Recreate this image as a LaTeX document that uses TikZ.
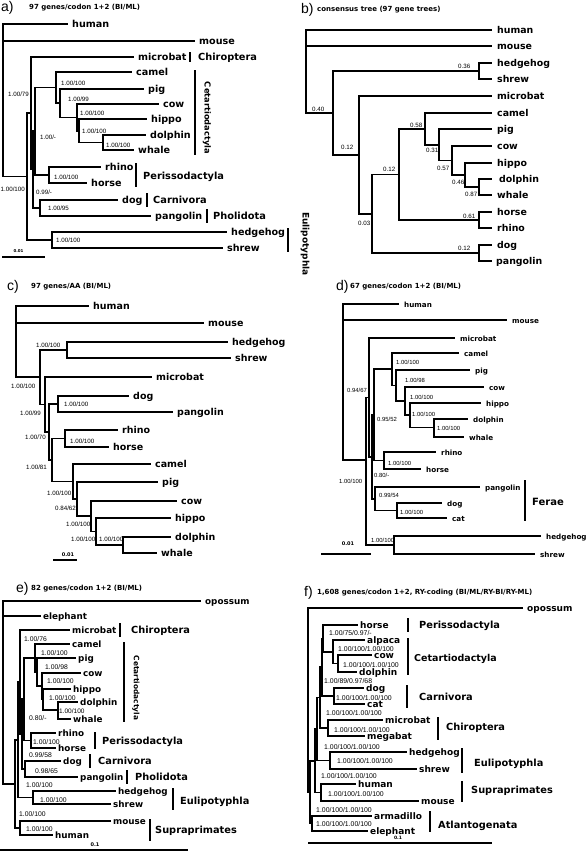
\documentclass[tikz,border=0pt]{standalone}
\usepackage{fontspec}
\setmainfont{DejaVu Sans}
\newfontfamily\supf{Liberation Sans}
\begin{document}
\begin{tikzpicture}[x=1pt,y=-1pt,
  br/.style={line width=1.8pt},
  brt/.style={line width=1.5pt},
  cbar/.style={line width=2.4pt},
  lf/.style={anchor=west,inner ysep=0pt,inner xsep=4pt,text height=0.74em,text depth=0pt,font=\bfseries\fontsize{#1}{#1}\selectfont},
  lf/.default=9.5,
  lfd/.style={lf=7.2,inner xsep=5pt},
  lfe/.style={lf=8.8,inner xsep=2.5pt},
  lff/.style={lf=9,inner xsep=2pt},
  sup/.style={anchor=west,inner sep=0pt,text height=0.72em,text depth=0pt,font=\supf\fontsize{#1}{#1}\selectfont},
  sup/.default=6.2,
  cl/.style={anchor=west,inner sep=0pt,text height=0.74em,text depth=0pt,font=\bfseries\fontsize{#1}{#1}\selectfont},
  cl/.default=9.8,
  vcl/.style={rotate=-90,inner sep=0pt,font=\bfseries\fontsize{#1}{#1}\selectfont},
  vcl/.default=8.5,
  ttl/.style={anchor=west,inner sep=0pt,font=\bfseries\fontsize{7}{8}\selectfont},
  plab/.style={anchor=west,inner sep=0pt,font=\supf\fontsize{14}{14}\selectfont},
  sc/.style={inner sep=0pt,font=\bfseries\fontsize{#1}{#1}\selectfont},
  sc/.default=5]
\useasboundingbox (0,0) rectangle (586,852);

% ================= Panel a =================
\node[plab] (a-p) at (1,7.5) {a)};
\node[ttl] (a-t) at (29,7.5) {97 genes/codon 1+2 (BI/ML)};
\coordinate (a-root) at (3,100);
\coordinate (a-n1) at (27,176.5);
\coordinate (a-n2) at (31,113);
\coordinate (a-n3) at (33,169.5);
\coordinate (a-n4) at (35,131);
\coordinate (a-c1) at (56,87.5);
\coordinate (a-pg) at (60,103);
\coordinate (a-ch) at (77,117.5);
\coordinate (a-h) at (79,131);
\coordinate (a-d) at (103,142.5);
\coordinate (a-per) at (49,175);
\coordinate (a-cp) at (40,208);
\coordinate (a-hs) at (52,240);
\node[lf=9.6] (a-human) at (68,24) {human};
\node[lf=9.6] (a-mouse) at (195,41) {mouse};
\node[lf=9.6] (a-microbat) at (134,57) {microbat};
\node[lf=9.6] (a-camel) at (132,72) {camel};
\node[lf=9.6] (a-pig) at (144,89) {pig};
\node[lf=9.6] (a-cow) at (159,104) {cow};
\node[lf=9.6] (a-hippo) at (147,119) {hippo};
\node[lf=9.6] (a-dolphin) at (146,135) {dolphin};
\node[lf=9.6] (a-whale) at (134,150) {whale};
\node[lf=9.6] (a-rhino) at (101,167) {rhino};
\node[lf=9.6] (a-horse) at (87,183) {horse};
\node[lf=9.6] (a-dog) at (118,200) {dog};
\node[lf=9.6] (a-pangolin) at (151,216) {pangolin};
\node[lf=9.6] (a-hedgehog) at (227,232) {hedgehog};
\node[lf=9.6] (a-shrew) at (223,248) {shrew};
\foreach \p/\c in {root/human,root/mouse,root/n1,n1/n2,n1/hs,n2/microbat,n2/n3,n3/n4,n3/cp,n4/c1,n4/per,c1/camel,c1/pg,pg/pig,pg/ch,ch/cow,ch/h,h/hippo,h/d,d/dolphin,d/whale,per/rhino,per/horse,cp/dog,cp/pangolin,hs/hedgehog,hs/shrew}
  \draw[br] (a-\p) |- (a-\c);
\node[sup] (a-s1) at (8,93) {1.00/79};
\node[sup] (a-s2) at (40,136) {1.00/-};
\node[sup] (a-s3) at (61,82) {1.00/100};
\node[sup] (a-s4) at (68,98) {1.00/99};
\node[sup] (a-s5) at (80,112) {1.00/100};
\node[sup] (a-s6) at (82,130) {1.00/100};
\node[sup] (a-s7) at (106,144) {1.00/100};
\node[sup] (a-s8) at (54,176) {1.00/100};
\node[sup] (a-s9) at (36,191) {0.99/-};
\node[sup] (a-s10) at (48,207) {1.00/95};
\node[sup] (a-s11) at (0.5,188) {1.00/100};
\node[sup] (a-s12) at (56,239) {1.00/100};
\draw[cbar] (190,52) -- (190,62);
\node[cl] (a-chicl) at (198,57) {Chiroptera};
\draw[cbar] (195,70) -- (195,155);
\node[vcl=8.3] (a-cetcl) at (207,118) {Cetartiodactyla};
\draw[cbar] (136,163) -- (136,187);
\node[cl] (a-percl) at (143,176) {Perissodactyla};
\draw[cbar] (147,193) -- (147,207);
\node[cl] (a-carcl) at (153,200) {Carnivora};
\draw[cbar] (207,209) -- (207,223);
\node[cl] (a-phocl) at (213,216) {Pholidota};
\draw[cbar] (288,228) -- (288,252);
\node[vcl=9] (a-eulcl) at (305,244) {Eulipotyphla};
\coordinate (a-sb1) at (2,257);
\coordinate (a-sb2) at (45,257);
\draw[br] (a-sb1) -- (a-sb2);
\node[sc=4] (a-sbl) at (18.5,251.5) {0.01};

% ================= Panel b =================
\node[plab] (b-p) at (301,10) {b)};
\node[ttl] (b-t) at (317,10) {consensus tree (97 gene trees)};
\coordinate (b-root) at (306,71.5);
\coordinate (b-z) at (333,113);
\coordinate (b-hs) at (479,71);
\coordinate (b-y) at (359,155);
\coordinate (b-x) at (372,214);
\coordinate (b-cp) at (399,174.5);
\coordinate (b-cam) at (425,129);
\coordinate (b-pg) at (439,145);
\coordinate (b-cw) at (452,160.5);
\coordinate (b-hip) at (465,175);
\coordinate (b-dw) at (479,187);
\coordinate (b-hr) at (479,220);
\coordinate (b-dp) at (479,253);
\node[lf=9.4,inner xsep=5pt] (b-human) at (492,30) {human};
\node[lf=9.4,inner xsep=5pt] (b-mouse) at (492,46) {mouse};
\node[lf=9.4,inner xsep=5pt] (b-hedgehog) at (492,63) {hedgehog};
\node[lf=9.4,inner xsep=5pt] (b-shrew) at (492,79) {shrew};
\node[lf=9.4,inner xsep=5pt] (b-microbat) at (492,96) {microbat};
\node[lf=9.4,inner xsep=5pt] (b-camel) at (492,113) {camel};
\node[lf=9.4,inner xsep=5pt] (b-pig) at (492,129) {pig};
\node[lf=9.4,inner xsep=5pt] (b-cow) at (492,146) {cow};
\node[lf=9.4,inner xsep=5pt] (b-hippo) at (492,163) {hippo};
\node[lf=9.4,inner xsep=7pt] (b-dolphin) at (492,179) {dolphin};
\node[lf=9.4,inner xsep=5pt] (b-whale) at (492,195) {whale};
\node[lf=9.4,inner xsep=5pt] (b-horse) at (492,212) {horse};
\node[lf=9.4,inner xsep=5pt] (b-rhino) at (492,228) {rhino};
\node[lf=9.4,inner xsep=5pt] (b-dog) at (492,245) {dog};
\node[lf=9.4,inner xsep=4pt] (b-pangolin) at (492,261) {pangolin};
\foreach \p/\c in {root/human,root/mouse,root/z,z/hs,z/y,hs/hedgehog,hs/shrew,y/microbat,y/x,x/cp,x/dp,cp/cam,cp/hr,cam/camel,cam/pg,pg/pig,pg/cw,cw/cow,cw/hip,hip/hippo,hip/dw,dw/dolphin,dw/whale,hr/horse,hr/rhino,dp/dog,dp/pangolin}
  \draw[br] (b-\p) |- (b-\c);
\node[sup] (b-s1) at (458,65) {0.36};
\node[sup] (b-s2) at (312,108) {0.40};
\node[sup] (b-s3) at (341,146) {0.12};
\node[sup] (b-s4) at (410,124) {0.58};
\node[sup] (b-s5) at (426,149) {0.31};
\node[sup] (b-s6) at (437,167) {0.57};
\node[sup] (b-s7) at (452,181) {0.46};
\node[sup] (b-s8) at (465,193) {0.87};
\node[sup] (b-s9) at (383,168) {0.12};
\node[sup] (b-s10) at (358,222) {0.03};
\node[sup] (b-s11) at (463,215) {0.61};
\node[sup] (b-s12) at (458,247) {0.12};

% ================= Panel c =================
\node[plab] (c-p) at (7,287) {c)};
\node[ttl] (c-t) at (31,287) {97 genes/AA (BI/ML)};
\coordinate (c-root) at (16,341.5);
\coordinate (c-l) at (40,377);
\coordinate (c-hs) at (67,350);
\coordinate (c-mb) at (45,404.5);
\coordinate (c-dprc) at (49,432);
\coordinate (c-dp) at (58,404);
\coordinate (c-rc) at (52,460);
\coordinate (c-rh) at (65,438.5);
\coordinate (c-cam) at (73,481.5);
\coordinate (c-pg) at (77,499);
\coordinate (c-cw) at (91,516);
\coordinate (c-hip) at (96,531.5);
\coordinate (c-dw) at (123,545);
\node[lf] (c-human) at (89,306) {human};
\node[lf] (c-mouse) at (204,323) {mouse};
\node[lf] (c-hedgehog) at (228,342) {hedgehog};
\node[lf] (c-shrew) at (231,358) {shrew};
\node[lf] (c-microbat) at (152,377) {microbat};
\node[lf] (c-dog) at (129,396) {dog};
\node[lf] (c-pangolin) at (173,412) {pangolin};
\node[lf] (c-rhino) at (118,430) {rhino};
\node[lf] (c-horse) at (109,447) {horse};
\node[lf] (c-camel) at (151,464) {camel};
\node[lf] (c-pig) at (158,482) {pig};
\node[lf] (c-cow) at (177,501) {cow};
\node[lf] (c-hippo) at (171,518) {hippo};
\node[lf] (c-dolphin) at (171,537) {dolphin};
\node[lf] (c-whale) at (157,553) {whale};
\foreach \p/\c in {root/human,root/mouse,root/l,l/hs,l/mb,hs/hedgehog,hs/shrew,mb/microbat,mb/dprc,dprc/dp,dprc/rc,dp/dog,dp/pangolin,rc/rh,rc/cam,rh/rhino,rh/horse,cam/camel,cam/pg,pg/pig,pg/cw,cw/cow,cw/hip,hip/hippo,hip/dw,dw/dolphin,dw/whale}
  \draw[br] (c-\p) |- (c-\c);
\node[sup] (c-s1) at (36,344) {1.00/100};
\node[sup] (c-s2) at (11,385) {1.00/100};
\node[sup] (c-s3) at (20,412) {1.00/99};
\node[sup] (c-s4) at (64,403) {1.00/100};
\node[sup] (c-s5) at (25,436) {1.00/70};
\node[sup] (c-s6) at (70,440) {1.00/100};
\node[sup] (c-s7) at (26,466) {1.00/81};
\node[sup] (c-s8) at (47,492) {1.00/100};
\node[sup] (c-s9) at (55,507) {0.84/62};
\node[sup] (c-s10) at (66,523) {1.00/100};
\node[sup] (c-s11) at (71,538) {1.00/100};
\node[sup] (c-s12) at (99,538) {1.00/100};
\coordinate (c-sb1) at (53,560);
\coordinate (c-sb2) at (77,560);
\draw[br] (c-sb1) -- (c-sb2);
\node[sc=5] (c-sbl) at (68,554.5) {0.01};

% ================= Panel d =================
\node[plab] (d-p) at (336,287) {d)};
\node[ttl] (d-t) at (350,287) {67 genes/codon 1+2 (BI/ML)};
\coordinate (d-root) at (343,382);
\coordinate (d-l) at (366,460);
\coordinate (d-mb) at (369,397.5);
\coordinate (d-cpf) at (372,457);
\coordinate (d-cet) at (374,414.75);
\coordinate (d-cam) at (392,369);
\coordinate (d-pg) at (396,385.5);
\coordinate (d-cw) at (405,401);
\coordinate (d-hip) at (410,415);
\coordinate (d-dw) at (434,427.5);
\coordinate (d-rh) at (384,460.5);
\coordinate (d-fer) at (375,499);
\coordinate (d-dc) at (397,510.5);
\coordinate (d-hs) at (394,545);
\node[lfd] (d-human) at (399,304) {human};
\node[lfd] (d-mouse) at (507,320) {mouse};
\node[lfd] (d-microbat) at (455,338) {microbat};
\node[lfd] (d-camel) at (459,353) {camel};
\node[lfd] (d-pig) at (470,370) {pig};
\node[lfd] (d-cow) at (484,387) {cow};
\node[lfd] (d-hippo) at (481,403) {hippo};
\node[lfd] (d-dolphin) at (468,419) {dolphin};
\node[lfd] (d-whale) at (464,437) {whale};
\node[lfd] (d-rhino) at (436,452) {rhino};
\node[lfd] (d-horse) at (421,469) {horse};
\node[lfd] (d-pangolin) at (480,487) {pangolin};
\node[lfd] (d-dog) at (442,503) {dog};
\node[lfd] (d-cat) at (447,518) {cat};
\node[lfd] (d-hedgehog) at (541,536) {hedgehog};
\node[lfd] (d-shrew) at (535,554) {shrew};
\foreach \p/\c in {root/human,root/mouse,root/l,l/mb,l/hs,mb/microbat,mb/cpf,cpf/cet,cpf/fer,cet/cam,cet/rh,cam/camel,cam/pg,pg/pig,pg/cw,cw/cow,cw/hip,hip/hippo,hip/dw,dw/dolphin,dw/whale,rh/rhino,rh/horse,fer/pangolin,fer/dc,dc/dog,dc/cat,hs/hedgehog,hs/shrew}
  \draw[brt] (d-\p) |- (d-\c);
\node[sup=5.9] (d-s1) at (396,361) {1.00/100};
\node[sup=5.9] (d-s2) at (405,379) {1.00/98};
\node[sup=5.9] (d-s3) at (410,396) {1.00/100};
\node[sup=5.9] (d-s4) at (412,413) {1.00/100};
\node[sup=5.9] (d-s5) at (437,427) {1.00/100};
\node[sup=5.9] (d-s6) at (347,389) {0.94/67};
\node[sup=5.9] (d-s7) at (377,418) {0.95/52};
\node[sup=5.9] (d-s8) at (388,462) {1.00/100};
\node[sup=5.9] (d-s9) at (374,474) {0.80/-};
\node[sup=5.9] (d-s10) at (379,494) {0.99/54};
\node[sup=5.9] (d-s11) at (400,511) {1.00/100};
\node[sup=5.9] (d-s12) at (339,480) {1.00/100};
\node[sup=5.9] (d-s13) at (371,539) {1.00/100};
\draw[cbar] (525,480) -- (525,521);
\node[cl=10] (d-fercl) at (532,502) {Ferae};
\coordinate (d-sb1) at (321,554);
\coordinate (d-sb2) at (371,554);
\draw[brt] (d-sb1) -- (d-sb2);
\node[sc=5] (d-sbl) at (348,544) {0.01};

% ================= Panel e =================
\node[plab] (e-p) at (16,589) {e)};
\node[ttl] (e-t) at (31,589) {82 genes/codon 1+2 (BI/ML)};
\coordinate (e-root) at (3,692);
\coordinate (e-boreo) at (15,784);
\coordinate (e-laur) at (18,740);
\coordinate (e-scro) at (20,682);
\coordinate (e-fer) at (22,734);
\coordinate (e-cp) at (24,699);
\coordinate (e-cam) at (35,658);
\coordinate (e-pg) at (37,672);
\coordinate (e-cw) at (42,686);
\coordinate (e-hip) at (43,699.5);
\coordinate (e-dw) at (58,710);
\coordinate (e-rh) at (31,740.5);
\coordinate (e-dp) at (25,769);
\coordinate (e-hs) at (33,797.5);
\coordinate (e-mh) at (20,828);
\node[lfe,inner xsep=4pt] (e-opossum) at (201,601) {opossum};
\node[lfe] (e-elephant) at (40.5,616) {elephant};
\node[lfe] (e-microbat) at (69.5,630) {microbat};
\node[lfe] (e-camel) at (69.5,644) {camel};
\node[lfe] (e-pig) at (75.5,658) {pig};
\node[lfe] (e-cow) at (80.5,673) {cow};
\node[lfe] (e-hippo) at (70.5,689) {hippo};
\node[lfe] (e-dolphin) at (77.5,702) {dolphin};
\node[lfe] (e-whale) at (70.5,719) {whale};
\node[lfe] (e-rhino) at (55.5,733) {rhino};
\node[lfe] (e-horse) at (55.5,748) {horse};
\node[lfe] (e-dog) at (60.5,761) {dog};
\node[lfe] (e-pangolin) at (77.5,777) {pangolin};
\node[lfe] (e-hedgehog) at (115.5,791) {hedgehog};
\node[lfe] (e-shrew) at (110.5,804) {shrew};
\node[lfe] (e-mouse) at (110.5,821) {mouse};
\node[lfe] (e-human) at (52.5,835) {human};
\foreach \p/\c in {root/opossum,root/elephant,root/boreo,boreo/laur,boreo/mh,laur/scro,laur/hs,scro/microbat,scro/fer,fer/cp,fer/dp,cp/cam,cp/rh,cam/camel,cam/pg,pg/pig,pg/cw,cw/cow,cw/hip,hip/hippo,hip/dw,dw/dolphin,dw/whale,rh/rhino,rh/horse,dp/dog,dp/pangolin,hs/hedgehog,hs/shrew,mh/mouse,mh/human}
  \draw[br] (e-\p) |- (e-\c);
\node[sup=6.8] (e-s1) at (24,638) {1.00/76};
\node[sup=6.8] (e-s2) at (41,652) {1.00/100};
\node[sup=6.8] (e-s3) at (45,666) {1.00/98};
\node[sup=6.8] (e-s4) at (47,680) {1.00/100};
\node[sup=6.8] (e-s5) at (49,697) {1.00/100};
\node[sup=6.5] (e-s6) at (59,710) {1.00/100};
\node[sup=6.8] (e-s7) at (29,717) {0.80/-};
\node[sup=6.8] (e-s8) at (33,741) {1.00/100};
\node[sup=6.8] (e-s9) at (29,754) {0.99/58};
\node[sup=6.8] (e-s10) at (35,770) {0.98/65};
\node[sup=6.8] (e-s11) at (26,784) {1.00/100};
\node[sup=6.8] (e-s12) at (40,799) {1.00/100};
\node[sup=6.8] (e-s13) at (19,813) {1.00/100};
\node[sup=6.8] (e-s14) at (26,828) {1.00/100};
\draw[cbar] (120,623) -- (120,637);
\node[cl] (e-chicl) at (131,630) {Chiroptera};
\draw[cbar] (124,642) -- (124,722);
\node[vcl=7.4] (e-cetcl) at (136,688) {Cetartiodactyla};
\draw[cbar] (95,732) -- (95,749);
\node[cl] (e-percl) at (102,741) {Perissodactyla};
\draw[cbar] (90,754) -- (90,768);
\node[cl] (e-carcl) at (98,761) {Carnivora};
\draw[cbar] (127,770) -- (127,784);
\node[cl] (e-phocl) at (135,777) {Pholidota};
\draw[cbar] (173,788) -- (173,810);
\node[cl] (e-eulcl) at (180,801) {Eulipotyphla};
\draw[cbar] (150,819) -- (150,841);
\node[cl] (e-supcl) at (155,830) {Supraprimates};
\coordinate (e-sb1) at (0,850);
\coordinate (e-sb2) at (188,850);
\draw[line width=2.4pt] (e-sb1) -- (e-sb2);
\node[sc=5] (e-sbl) at (95,844.5) {0.1};

% ================= Panel f =================
\node[plab] (f-p) at (304,593) {f)};
\node[ttl] (f-t) at (317,593) {1,608 genes/codon 1+2, RY-coding (BI/ML/RY-BI/RY-ML)};
\coordinate (f-root) at (308,700);
\coordinate (f-eu) at (310,792);
\coordinate (f-boreo) at (315,761);
\coordinate (f-laur) at (317,729);
\coordinate (f-scro) at (320,697.5);
\coordinate (f-fer) at (322,667);
\coordinate (f-pc) at (323,638.5);
\coordinate (f-cet) at (333,652);
\coordinate (f-cd) at (338,663.5);
\coordinate (f-dc) at (334,696);
\coordinate (f-chi) at (328,728);
\coordinate (f-hs) at (330,760.5);
\coordinate (f-hm) at (321,792.5);
\coordinate (f-ae) at (312,823.5);
\node[lff,inner xsep=4pt] (f-opossum) at (523,608) {opossum};
\node[lff] (f-horse) at (358,625) {horse};
\node[lff] (f-alpaca) at (365,640) {alpaca};
\node[lff] (f-cow) at (372,655) {cow};
\node[lff] (f-dolphin) at (357,672) {dolphin};
\node[lff] (f-dog) at (364,688) {dog};
\node[lff] (f-cat) at (365,704) {cat};
\node[lff] (f-microbat) at (383,720) {microbat};
\node[lff] (f-megabat) at (365,736) {megabat};
\node[lff] (f-hedgehog) at (407,752) {hedgehog};
\node[lff] (f-shrew) at (417,769) {shrew};
\node[lff] (f-human) at (356,784) {human};
\node[lff] (f-mouse) at (419,801) {mouse};
\node[lff] (f-armadillo) at (372,816) {armadillo};
\node[lff] (f-elephant) at (368,831) {elephant};
\foreach \p/\c in {root/opossum,root/eu,eu/boreo,eu/ae,boreo/laur,boreo/hm,laur/scro,laur/hs,scro/fer,scro/chi,fer/pc,fer/dc,pc/horse,pc/cet,cet/alpaca,cet/cd,cd/cow,cd/dolphin,dc/dog,dc/cat,chi/microbat,chi/megabat,hs/hedgehog,hs/shrew,hm/human,hm/mouse,ae/armadillo,ae/elephant}
  \draw[br] (f-\p) |- (f-\c);
\node[sup=6.9] (f-s1) at (329,632) {1.00/75/0.97/-};
\node[sup=6.9] (f-s2) at (338,648) {1.00/100/1.00/100};
\node[sup=6.9] (f-s3) at (343,664) {1.00/100/1.00/100};
\node[sup=6.9] (f-s4) at (324,680) {1.00/89/0.97/68};
\node[sup=6.9] (f-s5) at (336,697) {1.00/100/1.00/100};
\node[sup=6.9] (f-s6) at (326,712) {1.00/100/1.00/100};
\node[sup=6.9] (f-s7) at (334,729) {1.00/100/1.00/100};
\node[sup=6.9] (f-s8) at (324,746) {1.00/100/1.00/100};
\node[sup=6.9] (f-s9) at (337,760) {1.00/100/1.00/100};
\node[sup=6.9] (f-s10) at (321,775) {1.00/100/1.00/100};
\node[sup=6.9] (f-s11) at (328,793) {1.00/100/1.00/100};
\node[sup=6.9] (f-s12) at (316,809) {1.00/100/1.00/100};
\node[sup=6.9] (f-s13) at (316,823) {1.00/100/1.00/100};
\draw[cbar] (408,618) -- (408,632);
\node[cl] (f-percl) at (419,625) {Perissodactyla};
\draw[cbar] (408,638) -- (408,675);
\node[cl=9.5] (f-cetcl) at (414,658) {Cetartiodactyla};
\draw[cbar] (407,685) -- (407,708);
\node[cl] (f-carcl) at (419,697) {Carnivora};
\draw[cbar] (438,717) -- (438,740);
\node[cl] (f-chicl) at (446,727) {Chiroptera};
\draw[cbar] (462,748) -- (462,773);
\node[cl] (f-eulcl) at (474,763) {Eulipotyphla};
\draw[cbar] (462,781) -- (462,802);
\node[cl] (f-supcl) at (471,790) {Supraprimates};
\draw[cbar] (430,811) -- (430,832);
\node[cl] (f-atlcl) at (438,825) {Atlantogenata};
\coordinate (f-sb1) at (308,843);
\coordinate (f-sb2) at (492,843);
\draw[line width=2.4pt] (f-sb1) -- (f-sb2);
\node[sc=4.5] (f-sbl) at (398,838) {0.1};
\end{tikzpicture}
\end{document}
